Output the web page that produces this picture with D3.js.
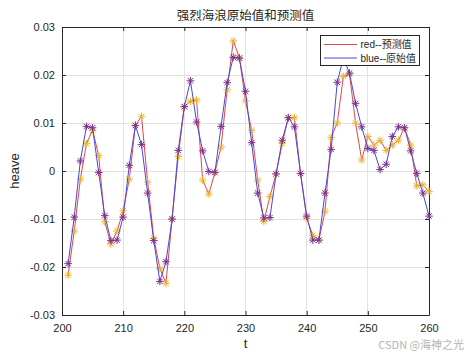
<!DOCTYPE html>
<html><head><meta charset="utf-8">
<script src="https://cdn.jsdelivr.net/npm/d3@7"></script>
<style>
html,body{margin:0;padding:0;background:#fff;}
svg{display:block;}
</style></head>
<body>
<svg id="chart" width="474" height="355"></svg>
<script>
const tVals = [201,202,203,204,205,206,207,208,209,210,211,212,213,214,215,216,217,218,219,220,
  221,222,223,224,225,226,227,228,229,230,231,232,233,234,235,236,237,238,239,240,
  241,242,243,244,245,246,247,248,249,250,251,252,253,254,255,256,257,258,259,260];
const predVals = [-0.0217,-0.0125,-0.0017,0.0057,0.0085,0.0032,-0.0106,-0.0152,-0.0125,-0.0083,
  -0.0017,0.0095,0.0114,-0.0023,-0.0140,-0.0203,-0.0234,-0.0100,0.0030,0.0134,
  0.0145,0.0148,-0.0019,-0.0048,-0.0003,0.0050,0.0169,0.0271,0.0236,0.0146,
  0.0085,-0.0019,-0.0105,-0.0053,-0.0006,0.0057,0.0111,0.0111,-0.0005,-0.0098,
  -0.0134,-0.0144,-0.0084,0.0070,0.0100,0.0197,0.0202,0.0100,0.0023,0.0072,
  0.0054,0.0064,0.0043,0.0054,0.0064,0.0090,0.0054,-0.0031,-0.0029,-0.0043];
const origVals = [-0.0193,-0.0096,0.0021,0.0093,0.0090,-0.0003,-0.0093,-0.0145,-0.0144,-0.0096,
  0.0012,0.0095,0.0055,-0.0046,-0.0145,-0.0230,-0.0189,-0.0100,0.0043,0.0134,
  0.0188,0.0102,0.0042,-0.0001,-0.0003,0.0093,0.0184,0.0237,0.0235,0.0166,
  0.0059,-0.0046,-0.0098,-0.0097,-0.0006,0.0064,0.0111,0.0092,-0.0005,-0.0094,
  -0.0144,-0.0144,-0.0046,0.0045,0.0185,0.0235,0.0204,0.0141,0.0092,0.0047,
  0.0043,0.0003,0.0014,0.0072,0.0092,0.0090,0.0042,-0.0005,-0.0046,-0.0094];
const xTicks = [200,210,220,230,240,250,260];
const yTicks = [-0.03,-0.02,-0.01,0,0.01,0.02,0.03];
const yTickLabels = ["-0.03","-0.02","-0.01","0","0.01","0.02","0.03"];
const titleText = "强烈海浪原始值和预测值";
const legendLabels = ["red--预测值","blue--原始值"];

const L=62, R=429, T=27, B=315;
const svg = d3.select("#chart");
const x = d3.scaleLinear().domain([200,260]).range([L,R]);
const y = d3.scaleLinear().domain([-0.03,0.03]).range([B,T]);
const axisColor = "#262626";
const latin = "'Liberation Sans', Arial, sans-serif";
const cjk = "'Noto Sans CJK SC', sans-serif";

// grid
const grid = svg.append("g");
grid.selectAll(".gx").data(xTicks).join("line")
  .attr("x1",d=>x(d)).attr("x2",d=>x(d)).attr("y1",T).attr("y2",B)
  .attr("stroke","#e3e3e3").attr("stroke-width",1).attr("shape-rendering","crispEdges");
grid.selectAll(".gy").data(yTicks).join("line")
  .attr("x1",L).attr("x2",R).attr("y1",d=>y(d)).attr("y2",d=>y(d))
  .attr("stroke","#e3e3e3").attr("stroke-width",1).attr("shape-rendering","crispEdges");

// axes
const ax = svg.append("g").attr("transform",`translate(0,${B})`)
  .call(d3.axisBottom(x).tickValues(xTicks).tickSizeInner(-4).tickSizeOuter(0).tickPadding(9));
const ay = svg.append("g").attr("transform",`translate(${L},0)`)
  .call(d3.axisLeft(y).tickValues(yTicks).tickFormat((d,i)=>yTickLabels[i]).tickSizeInner(-4).tickSizeOuter(0).tickPadding(7));
const axT = svg.append("g").attr("transform",`translate(0,${T})`)
  .call(d3.axisTop(x).tickValues(xTicks).tickSizeInner(-4).tickSizeOuter(0).tickFormat(""));
const ayR = svg.append("g").attr("transform",`translate(${R},0)`)
  .call(d3.axisRight(y).tickValues(yTicks).tickSizeInner(-4).tickSizeOuter(0).tickFormat(""));
[ax,ay,axT,ayR].forEach(g=>{
  g.select(".domain").attr("stroke",axisColor).attr("stroke-width",1);
  g.selectAll(".tick line").attr("stroke",axisColor);
  g.selectAll("text").attr("fill",axisColor).style("font-family",latin).style("font-size","11px");
});

// series
const line = d3.line().x((d,i)=>x(tVals[i])).y(d=>y(d));
function star(cx,cy,r){
  const d=r*0.72;
  return `M${cx-r},${cy}L${cx+r},${cy}M${cx},${cy-r}L${cx},${cy+r}`+
         `M${cx-d},${cy-d}L${cx+d},${cy+d}M${cx-d},${cy+d}L${cx+d},${cy-d}`;
}
function series(vals, lineColor, markColor){
  const g=svg.append("g");
  g.append("path").datum(vals).attr("d",line).attr("fill","none")
    .attr("stroke",lineColor).attr("stroke-width",1);
  g.selectAll("path.m").data(vals).join("path").attr("class","m")
    .attr("d",(d,i)=>star(x(tVals[i]),y(d),3.8))
    .attr("stroke",markColor).attr("stroke-width",1).attr("fill","none");
}
series(predVals,"#e04848","#efb225");
series(origVals,"#4848d8","#7e2f8e");

// legend
const lg = svg.append("g");
lg.append("rect").attr("x",320.5).attr("y",35.5).attr("width",99).attr("height",30)
  .attr("fill","#fff").attr("stroke",axisColor).attr("stroke-width",1);
const lc = ["#e04848","#4848d8"];
legendLabels.forEach((lab,i)=>{
  const yy = 44.5 + i*13.5;
  lg.append("line").attr("x1",324).attr("x2",357).attr("y1",yy).attr("y2",yy)
    .attr("stroke",lc[i]).attr("stroke-width",1);
  const parts = lab.split("--");
  const t = lg.append("text").attr("x",360.5).attr("y",yy+3.5).attr("fill",axisColor).style("font-size","10px");
  t.append("tspan").style("font-family",latin).text(parts[0]+"--");
  t.append("tspan").style("font-family",cjk).text(parts[1]);
});

// title and labels
svg.append("text").attr("x",245.5).attr("y",20).attr("text-anchor","middle")
  .attr("fill",axisColor).style("font-family",cjk).style("font-size","12.5px").text(titleText);
svg.append("text").attr("x",245.5).attr("y",348).attr("text-anchor","middle")
  .attr("fill",axisColor).style("font-family",latin).style("font-size","13px").text("t");
svg.append("text").attr("transform",`translate(19,${(T+B)/2}) rotate(-90)`).attr("text-anchor","middle")
  .attr("fill",axisColor).style("font-family",latin).style("font-size","13px").text("heave");
svg.append("text").attr("x",464).attr("y",349).attr("text-anchor","end")
  .attr("fill","#b4b4b4").style("font-family",cjk).style("font-size","11px").text("CSDN @海神之光");
</script>
</body></html>
